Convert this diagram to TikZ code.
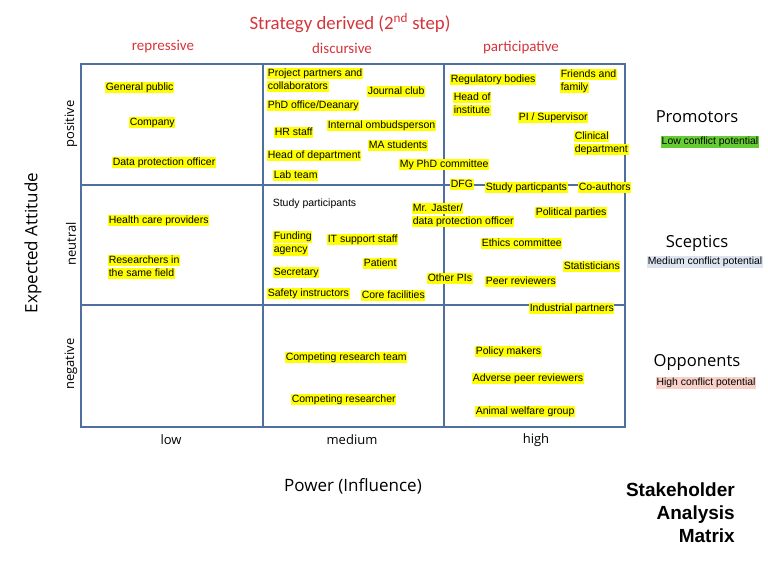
\documentclass[tikz,border=0pt]{standalone}
\usepackage{fontspec}
\setmainfont{Liberation Sans}
\newfontfamily\headfont{Carlito}
\newfontfamily\axisfont{Open Sans}
\usepackage{tikz}

\definecolor{gridblue}{RGB}{79,111,159}
\definecolor{headred}{RGB}{214,52,58}
\definecolor{hlyellow}{RGB}{255,255,0}
\definecolor{lowgreen}{RGB}{102,204,51}
\definecolor{medblue}{RGB}{221,230,240}
\definecolor{highpink}{RGB}{248,208,200}

% yellow marker behind one line of a label
\newcommand{\hl}[1]{{\setlength{\fboxsep}{0.6pt}\colorbox{hlyellow}{\rule[-2.4pt]{0pt}{10.3pt}#1}}}

\begin{document}
\begin{tikzpicture}[x=1pt, y=-1pt,
    holder/.style={anchor=west, fill=hlyellow, inner xsep=0.6pt, inner ysep=0.6pt, yshift=-1.3pt,
        text height=7.9pt, text depth=2.4pt, font=\fontsize{10.5}{13}\selectfont},
    holdertwo/.style={anchor=west, inner sep=0pt, align=left, yshift=-1.3pt, font=\fontsize{10.5}{13}\selectfont},
    strategy/.style={text=headred, font=\headfont\fontsize{15}{17}\selectfont},
    level/.style={font=\axisfont\fontsize{13}{15}\selectfont},
    attitude/.style={rotate=90, font=\axisfont\fontsize{13}{15}\selectfont},
    group/.style={font=\axisfont\fontsize{16.6}{19}\selectfont},
    conflict/.style={inner xsep=0.6pt, inner ysep=0.8pt, font=\fontsize{10.4}{12}\selectfont}]
    \useasboundingbox (0,0) rectangle (768,576);

    % Grid of the matrix
    \draw[gridblue, line width=1.3pt] (81,64) rectangle (625,427);
    \draw[gridblue, line width=1.3pt] (263,64) -- (263,427);
    \draw[gridblue, line width=1.3pt] (444,64) -- (444,427);
    \draw[gridblue, line width=1.3pt] (81,185) -- (625,185);
    \draw[gridblue, line width=1.3pt] (81,305) -- (625,305);

    % Strategy headings
    \node[text=headred, font=\headfont\fontsize{18.8}{21}\selectfont] (strat) at (350,23) {Strategy derived (2\textsuperscript{nd} step)};
    \node[strategy] (repressive) at (163,47) {repressive};
    \node[strategy] (discursive) at (342,48) {discursive};
    \node[strategy] (participative) at (521,48) {participative};

    % Attitude axis
    \node[rotate=90, font=\axisfont\fontsize{17}{19}\selectfont] (attitude) at (33,243) {Expected Attitude};
    \node[attitude] (positive) at (71,124) {positive};
    \node[attitude] (neutral) at (71,244) {neutral};
    \node[attitude] (negative) at (71,364) {negative};

    % Power axis
    \node[level] (low) at (171,440) {low};
    \node[level] (medium) at (352,440) {medium};
    \node[level] (high) at (536,440) {high};
    \node[font=\axisfont\fontsize{17}{19}\selectfont] (power) at (353,486) {Power (Influence)};

    % Stakeholder groups
    \node[group] (promotors) at (697,117) {Promotors};
    \node[conflict, fill=lowgreen] (lowconf) at (710,142) {Low conflict potential};
    \node[group] (sceptics) at (697,243) {Sceptics};
    \node[conflict, fill=medblue] (medconf) at (705,262) {Medium conflict potential};
    \node[group] (opponents) at (697,362) {Opponents};
    \node[conflict, fill=highpink] (highconf) at (706,383) {High conflict potential};

    % Title
    \node[anchor=north east, align=right, inner sep=0pt, font=\bfseries\fontsize{19}{23}\selectfont] (title) at (735,483) {Stakeholder\\Analysis\\Matrix};

    % positive attitude
    \node[holder] (public) at (105,86) {General public};
    \node[holder] (company) at (129,121) {Company};
    \node[holder] (dpo) at (112,161) {Data protection officer};
    \node[holdertwo] (partners) at (267,78.5) {\hl{Project partners and}\\\hl{collaborators}};
    \node[holder] (journal) at (367,90) {Journal club};
    \node[holder] (phdoffice) at (267,104) {PhD office/Deanary};
    \node[holder] (ombud) at (327,124) {Internal ombudsperson};
    \node[holder] (hrstaff) at (274,131) {HR staff};
    \node[holder] (mastud) at (368,144) {MA students};
    \node[holder] (headdept) at (267,154) {Head of department};
    \node[holder] (phdcomm) at (399,163) {My PhD committee};
    \node[holder] (labteam) at (273,174) {Lab team};
    \node[holder] (regbodies) at (450,78) {Regulatory bodies};
    \node[holdertwo] (friends) at (560,79.5) {\hl{Friends and}\\\hl{family}};
    \node[holdertwo] (headinst) at (453,102.5) {\hl{Head of}\\\hl{institute}};
    \node[holder] (supervisor) at (518,116) {PI / Supervisor};
    \node[holdertwo] (clinical) at (574,141.5) {\hl{Clinical}\\\hl{department}};

    % on the border line
    \node[holder] (dfg) at (450,183) {DFG};
    \node[holder] (studypart) at (485,186) {Study particpants};
    \node[holder] (coauthors) at (578,186) {Co-authors};

    % neutral attitude
    \node[holder] (healthcare) at (108,219) {Health care providers};
    \node[holdertwo] (researchers) at (108,265.5) {\hl{Researchers in}\\\hl{the same field}};
    \node[holder, fill=none] (participants) at (272,202) {Study participants};
    \node[holdertwo] (funding) at (273,242) {\hl{Funding}\\\hl{agency}};
    \node[holder] (itstaff) at (327,238) {IT support staff};
    \node[holder] (patient) at (363,262) {Patient};
    \node[holder] (secretary) at (273,271) {Secretary};
    \node[holder] (safety) at (267,292) {Safety instructors};
    \node[holder] (corefac) at (361,294) {Core facilities};
    \node[holdertwo] (jaster) at (412,213.5) {\hl{Mr. Jaster/}\\\hl{data protection officer}};
    \node[holder] (otherpis) at (427,277) {Other PIs};
    \node[holder] (political) at (535,211) {Political parties};
    \node[holder] (ethics) at (481,242) {Ethics committee};
    \node[holder] (statisticians) at (563,265) {Statisticians};
    \node[holder] (peerrev) at (485,280) {Peer reviewers};
    \node[holder] (industrial) at (529,307) {Industrial partners};

    % negative attitude
    \node[holder] (compteam) at (285,356) {Competing research team};
    \node[holder] (compres) at (291,398) {Competing researcher};
    \node[holder] (policy) at (475,350) {Policy makers};
    \node[holder] (adverse) at (472,377) {Adverse peer reviewers};
    \node[holder] (animal) at (475,410) {Animal welfare group};
\end{tikzpicture}
\end{document}
